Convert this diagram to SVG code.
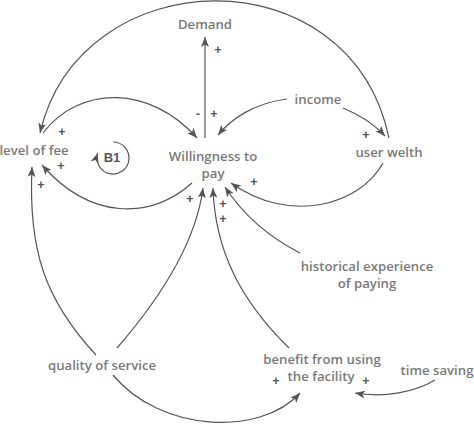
<svg xmlns="http://www.w3.org/2000/svg" width="474" height="425" viewBox="0 0 474 425">
<defs>
<marker id="ah" markerUnits="userSpaceOnUse" markerWidth="12" markerHeight="10" refX="10" refY="4" orient="auto">
<path d="M0,0 L10,4 L0,8 L2.5,4 z" fill="#555"/>
</marker>
<style>
.lbl{font-family:"Open Sans","Liberation Sans",sans-serif;font-weight:600;font-size:13.2px;fill:#7a7a7a;text-anchor:middle}
.sg{font-family:"Liberation Sans",sans-serif;font-weight:bold;font-size:12.5px;fill:#555;text-anchor:middle}
.c{fill:none;stroke:#555;stroke-width:1.2;marker-end:url(#ah)}
</style>
</defs>
<rect width="474" height="425" fill="#fff"/>
<g id="connectors">
<path class="c" d="M205,138 L205,37"/>
<path class="c" d="M389,138 C350,-48 80,-40 40,133"/>
<path class="c" d="M43,133 C80,85 150,85 197,138"/>
<path class="c" d="M287,99 C255,103 232,118 218,135"/>
<path class="c" d="M343,108 C360,115 375,125 385,136"/>
<path class="c" d="M192,183 C150,220 90,220 42,165"/>
<path class="c" d="M383,163 C360,205 290,225 231,183"/>
<path class="c" d="M96,355 C45,300 28,250 32,167"/>
<path class="c" d="M117,348 C150,310 195,250 203,188"/>
<path class="c" d="M289,348 C240,300 215,250 213,188"/>
<path class="c" d="M300,253 C265,235 240,210 225,187"/>
<path class="c" d="M113,375 C160,432 260,437 300,393"/>
<path class="c" d="M435,380 C415,392 385,398 355,393"/>
<path class="c" d="M113,142 A16,16 0 1 1 97.8,153"/>
</g>
<g id="signs">
<text class="sg" x="218" y="54">+</text>
<text class="sg" x="198" y="118">-</text>
<text class="sg" x="214" y="118">+</text>
<text class="sg" x="62" y="136">+</text>
<text class="sg" x="61" y="170">+</text>
<text class="sg" x="41" y="189">+</text>
<text class="sg" x="366" y="139">+</text>
<text class="sg" x="254" y="186">+</text>
<text class="sg" x="190" y="203">+</text>
<text class="sg" x="223" y="208">+</text>
<text class="sg" x="223" y="223">+</text>
</g>
<g id="demand"><text class="lbl" x="205" y="29">Demand</text></g>
<g id="income"><text class="lbl" x="318" y="104">income</text></g>
<g id="level-of-fee"><text class="lbl" x="34" y="155">level of fee</text></g>
<g id="b1"><text class="sg" x="112" y="162" style="font-size:13px">B1</text></g>
<g id="willingness"><text class="lbl" x="213" y="161">Willingness to</text><text class="lbl" x="213" y="178">pay</text></g>
<g id="user-welth"><text class="lbl" x="389" y="157">user welth</text></g>
<g id="historical"><text class="lbl" x="367" y="271">historical experience</text><text class="lbl" x="367" y="288">of paying</text></g>
<g id="quality"><text class="lbl" x="102" y="370">quality of service</text></g>
<g id="benefit"><text class="lbl" x="322" y="364">benefit from using</text><text class="lbl" x="321" y="381">the facility</text><text class="sg" x="276" y="385">+</text><text class="sg" x="366" y="385">+</text></g>
<g id="time-saving"><text class="lbl" x="437" y="375">time saving</text></g>
</svg>
